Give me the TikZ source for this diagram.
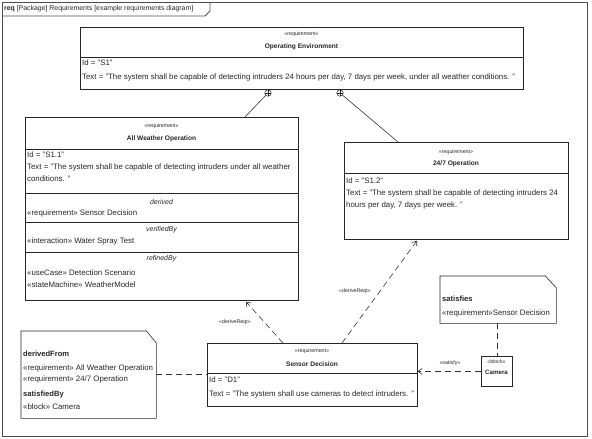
\documentclass[tikz,border=0pt]{standalone}
\usepackage{fontspec}
\setmainfont{Liberation Sans}
\usetikzlibrary{arrows.meta,calc}
\begin{document}
\begin{tikzpicture}[x=1pt,y=-1pt,
  font=\fontsize{7.85}{9}\selectfont,
  box/.style={draw=black!85,line width=0.7pt,anchor=north west,inner sep=0pt},
  txt/.style={anchor=west,inner sep=0pt,text=black!85},
  ctxt/.style={inner sep=0pt,text=black!85},
  stereo/.style={ctxt,font=\fontsize{5.3}{6}\selectfont},
  ttl/.style={ctxt,font=\fontsize{6.6}{8}\selectfont\bfseries},
  divider/.style={draw=black!85,line width=0.6pt},
  conn/.style={draw=black!80,line width=0.6pt},
  dashconn/.style={conn,dash pattern=on 6pt off 4pt},
  opentip/.style={-{Straight Barb[length=4pt,width=6pt]}},
  contain/.style={circle,draw=black!85,line width=0.5pt,minimum size=6.5pt,inner sep=0pt,
    path picture={\draw[line width=0.4pt] (path picture bounding box.north) -- (path picture bounding box.south)
      (path picture bounding box.west) -- (path picture bounding box.east);}},
  notebox/.style={anchor=north west,inner sep=0pt}
]
\useasboundingbox (0,0) rectangle (592,439);

% frame
\node[box,draw=black!70,line width=0.9pt,minimum width=585,minimum height=434] (frame) at (2,2) {};
\draw[draw=black!70,line width=0.9pt] (frame.north west |- 0,16) -- (205,16) -- (210,11) -- (210 ,2);
\node[txt,font=\fontsize{6.9}{8}\selectfont] (title) at (4,9) {\textbf{req} [Package] Requirements [example requirements diagram]};

% Operating Environment
\node[box,minimum width=443,minimum height=62] (oe) at (80,27) {};
\draw[divider] (oe.west |- 0,57) -- (oe.east |- 0,57);
\node[stereo] (oes) at (301.5,34) {«requirement»};
\node[ttl] (oet) at (301.5,47) {Operating Environment};
\node[txt] (oeid) at (82,63) {Id = "S1"};
\node[txt] (oetx) at (82,77) {Text = "The system shall be capable of detecting intruders 24 hours per day, 7 days per week, under all weather conditions. "};

% All Weather Operation
\node[box,minimum width=273,minimum height=183] (awo) at (25,117) {};
\draw[divider] (awo.west |- 0,149) -- (awo.east |- 0,149);
\draw[divider] (awo.west |- 0,193) -- (awo.east |- 0,193);
\draw[divider] (awo.west |- 0,222) -- (awo.east |- 0,222);
\draw[divider] (awo.west |- 0,252) -- (awo.east |- 0,252);
\node[stereo] (awos) at (161.5,126) {«requirement»};
\node[ttl] (awot) at (161.5,139) {All Weather Operation};
\node[txt] (awoid) at (27,155) {Id = "S1.1"};
\node[txt] (awotx) at (27,167) {Text = "The system shall be capable of detecting intruders under all weather};
\node[txt] (awotx2) at (27,179) {conditions. "};
\node[ctxt,font=\fontsize{7}{9}\selectfont\itshape] (awod) at (161.5,202) {derived};
\node[txt] (awod1) at (27,213) {«requirement» Sensor Decision};
\node[ctxt,font=\fontsize{7}{9}\selectfont\itshape] (awov) at (161.5,230) {verifiedBy};
\node[txt] (awov1) at (27,241) {«interaction» Water Spray Test};
\node[ctxt,font=\fontsize{7}{9}\selectfont\itshape] (awor) at (161.5,259) {refinedBy};
\node[txt] (awor1) at (27,273) {«useCase» Detection Scenario};
\node[txt] (awor2) at (27,285) {«stateMachine» WeatherModel};

% 24/7 Operation
\node[box,minimum width=224,minimum height=97] (op) at (344,142) {};
\draw[divider] (op.west |- 0,173) -- (op.east |- 0,173);
\node[stereo] (ops) at (456,152) {«requirement»};
\node[ttl] (opt) at (456,164) {24/7 Operation};
\node[txt] (opid) at (346,181) {Id = "S1.2"};
\node[txt] (optx) at (346,193) {Text = "The system shall be capable of detecting intruders 24};
\node[txt] (optx2) at (346,205) {hours per day, 7 days per week. "};

% Sensor Decision
\node[box,minimum width=210,minimum height=63] (sd) at (207,343) {};
\draw[divider] (sd.west |- 0,373) -- (sd.east |- 0,373);
\node[stereo] (sds) at (312,351) {«requirement»};
\node[ttl] (sdt) at (312,364) {Sensor Decision};
\node[txt] (sdid) at (209,380) {Id = "D1"};
\node[txt] (sdtx) at (209,394) {Text = "The system shall use cameras to detect intruders. "};

% left note
\node[notebox,minimum width=135,minimum height=87] (nl) at (21,331) {};
\draw[divider] (nl.north west) -- ($(nl.north east)+(-10,0)$) -- ($(nl.north east)+(0,12)$) -- (nl.south east) -- (nl.south west) -- cycle;
\node[txt,font=\fontsize{7.6}{9}\selectfont\bfseries] (nld) at (23,354) {derivedFrom};
\node[txt] (nl1) at (23,368) {«requirement» All Weather Operation};
\node[txt] (nl2) at (23,379) {«requirement» 24/7 Operation};
\node[txt,font=\fontsize{7.6}{9}\selectfont\bfseries] (nls) at (23,395) {satisfiedBy};
\node[txt] (nl3) at (23,407) {«block» Camera};

% right note
\node[notebox,minimum width=116,minimum height=47] (nr) at (440,276) {};
\draw[divider] (nr.north west) -- ($(nr.north east)+(-11,0)$) -- ($(nr.north east)+(0,12)$) -- (nr.south east) -- (nr.south west) -- cycle;
\node[txt,font=\fontsize{7.6}{9}\selectfont\bfseries] (nrs) at (442,299) {satisfies};
\node[txt] (nr1) at (442,313) {«requirement»Sensor Decision};

% Camera block
\node[box,minimum width=31,minimum height=30] (cam) at (481,356) {};
\node[stereo] (cams) at (496.5,362) {«block»};
\node[ctxt,font=\fontsize{6.2}{8}\selectfont\bfseries] (camt) at (496.5,372) {Camera};

% containment
\node[contain] (c1) at ($(oe.south west)+(188,3.3)$) {};
\node[contain] (c2) at ($(oe.south west)+(260,3.3)$) {};
\draw[conn] (c1) -- ($(awo.north west)+(220,0)$);
\draw[conn] (c2) -- ($(op.north west)+(54,0)$);

% deriveReqt
\draw[dashconn,opentip] ($(sd.north west)+(135,0)$) -- ($(op.south west)+(73,1)$);
\node[stereo] (dr1) at (355,291) {«deriveReqt»};
\draw[dashconn,opentip] ($(sd.north west)+(76,0)$) -- ($(awo.south west)+(221,1)$);
\node[stereo] (dr2) at (235,322) {«deriveReqt»};

% note links
\draw[dashconn] (nl.east) -- (sd.west |- nl.east);
\draw[dashconn] (cam.north |- nr.south) -- (cam.north);
\draw[dashconn,opentip] (cam.west) -- (sd.east |- cam.west);
\node[stereo] (sat) at (450,363) {«satisfy»};
\end{tikzpicture}
\end{document}
